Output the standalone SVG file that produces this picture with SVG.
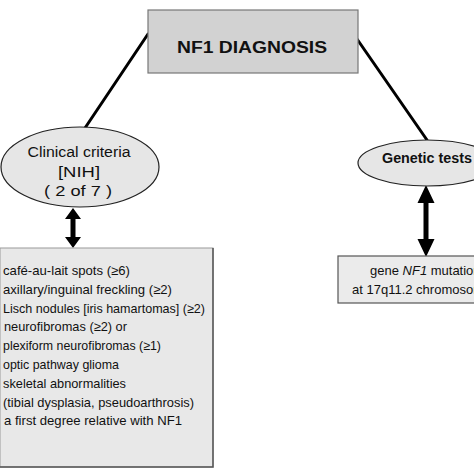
<svg xmlns="http://www.w3.org/2000/svg" width="474" height="474" viewBox="0 0 474 474">
<style>
.t{font-family:"Liberation Sans",Arial,sans-serif;fill:#111;}
.h{font-size:16px;font-weight:bold;}
.e{font-size:14px;}
.l{font-size:13px;}
.box{stroke:#777;stroke-width:1.2;}
.ell{fill:#e6e6e6;stroke:#222;stroke-width:1.2;}
.con{stroke:#000;stroke-width:3;fill:none;stroke-linecap:round;}
.arr{fill:#000;}
</style>
<rect width="474" height="474" fill="#fff"/>
<g id="connectors">
<line class="con" x1="148" y1="34" x2="85" y2="128"/>
<line class="con" x1="357" y1="39" x2="427" y2="140"/>
<path id="arrow-left" class="arr" d="M73,208 L81,219 L75.5,219 L75.5,237 L81,237 L73,248 L65,237 L70.5,237 L70.5,219 L65,219 Z"/>
<path id="arrow-right" class="arr" d="M426,185 L434.5,203 L428.5,203 L428.5,239 L434.5,239 L426,257 L417.5,239 L423.5,239 L423.5,203 L417.5,203 Z"/>
</g>
<g id="nf1-diagnosis">
<rect class="box" x="148" y="10" width="210" height="63" fill="#d2d2d2"/>
<text class="t h" x="177" y="53" textLength="150" lengthAdjust="spacingAndGlyphs">NF1  DIAGNOSIS</text>
</g>
<g id="clinical-criteria">
<ellipse class="ell" cx="80" cy="167" rx="79" ry="40"/>
<text class="t e" x="79" y="157" text-anchor="middle" textLength="103" lengthAdjust="spacingAndGlyphs">Clinical criteria</text>
<text class="t e" x="79" y="177" text-anchor="middle" textLength="42" lengthAdjust="spacingAndGlyphs">[NIH]</text>
<text class="t e" x="78" y="196" text-anchor="middle" textLength="68" lengthAdjust="spacingAndGlyphs">( 2 of 7 )</text>
</g>
<g id="genetic-tests">
<ellipse class="ell" cx="427" cy="163" rx="69" ry="23"/>
<text class="t e" x="382" y="163" font-weight="bold" textLength="90" lengthAdjust="spacingAndGlyphs">Genetic tests</text>
</g>
<g id="criteria-list">
<rect x="0" y="248" width="213" height="219" fill="#e8e8e8" stroke="#999" stroke-width="1"/>
<path d="M213,248 L213,467 L0,467" fill="none" stroke="#555" stroke-width="1.5"/>
<text class="t l" x="3" y="275" textLength="127" lengthAdjust="spacingAndGlyphs">café-au-lait spots (≥6)</text>
<text class="t l" x="3" y="293.8" textLength="169" lengthAdjust="spacingAndGlyphs">axillary/inguinal freckling (≥2)</text>
<text class="t l" x="3" y="312.6" textLength="202" lengthAdjust="spacingAndGlyphs">Lisch nodules [iris hamartomas] (≥2)</text>
<text class="t l" x="4" y="331.4" textLength="123" lengthAdjust="spacingAndGlyphs">neurofibromas (≥2) or</text>
<text class="t l" x="3" y="350.2" textLength="158" lengthAdjust="spacingAndGlyphs">plexiform neurofibromas (≥1)</text>
<text class="t l" x="3" y="369" textLength="116" lengthAdjust="spacingAndGlyphs">optic pathway glioma</text>
<text class="t l" x="3" y="387.8" textLength="123" lengthAdjust="spacingAndGlyphs">skeletal abnormalities</text>
<text class="t l" x="3" y="406.6" textLength="191" lengthAdjust="spacingAndGlyphs">(tibial dysplasia, pseudoarthrosis)</text>
<text class="t l" x="4" y="425.4" textLength="178" lengthAdjust="spacingAndGlyphs">a first degree relative with NF1</text>
</g>
<g id="genetic-result">
<rect x="338" y="256" width="140" height="47" fill="#ebebeb" stroke="#555" stroke-width="1.2"/>
<text class="t l" x="370" y="275">gene <tspan font-style="italic">NF1</tspan> mutation</text>
<text class="t l" x="352" y="294">at 17q11.2 chromosome</text>
</g>
</svg>
